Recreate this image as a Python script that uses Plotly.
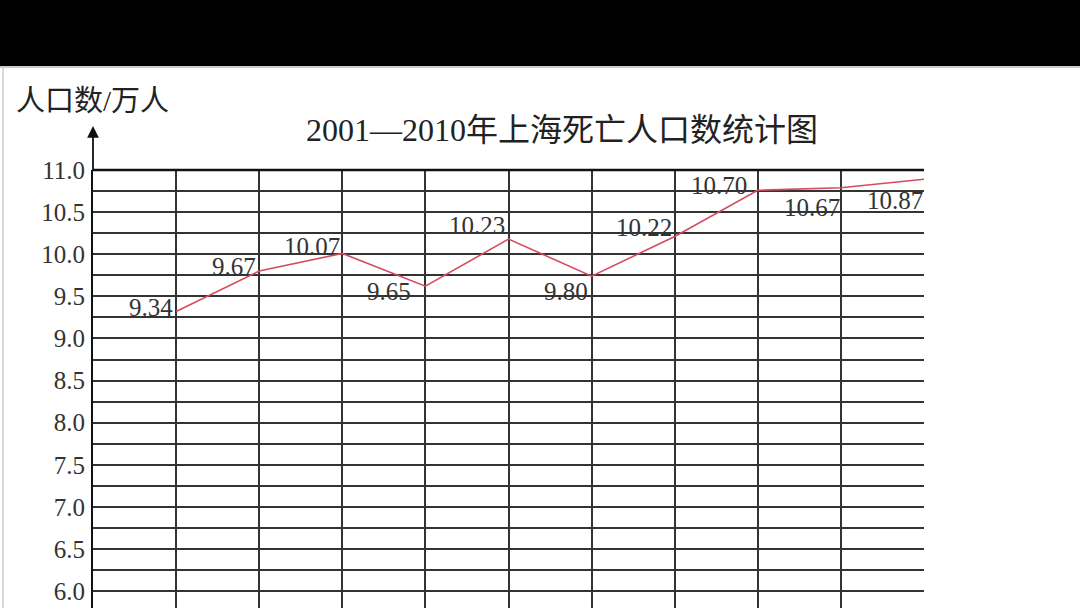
import plotly.graph_objects as go

years = [2001, 2002, 2003, 2004, 2005, 2006, 2007, 2008, 2009, 2010]
# positions as drawn in the picture
values = [9.32, 9.80, 10.01, 9.62, 10.18, 9.74, 10.21, 10.76, 10.79, 10.89]
# numbers printed next to the points
label_texts = ["9.34", "9.67", "10.07", "9.65", "10.23", "9.80", "10.22", "10.70", "10.67", "10.87"]
y_tick_text = ["6.0", "6.5", "7.0", "7.5", "8.0", "8.5", "9.0", "9.5", "10.0", "10.5", "11.0"]

# label placement offsets (pixels) relative to each point
label_dx = [-1, -1, 0, -12, -2, -2, -1, -9, 1, 1]
label_dy = [4.5, 5, 6.5, -5, 14, -15.5, 9.5, 4.5, -19.5, -21.5]

SERIF = "Liberation Serif, Noto Sans CJK SC"
GRID = "#333333"

fig = go.Figure()
fig.add_trace(go.Scatter(
    x=years, y=values, mode="lines",
    line=dict(color="#d64b60", width=1.6),
    hoverinfo="skip", showlegend=False,
))

W, H = 1080, 608
L, R, T, B = 93, 1080 - 924, 170, 0
pw, ph = W - L - R, H - T - B

def px_x(p):
    return (p - L) / pw

def px_y(p):
    return (H - B - p) / ph

annotations = []
for yr, v, t, dx, dy in zip(years, values, label_texts, label_dx, label_dy):
    annotations.append(dict(x=yr, y=v, xref="x", yref="y", text=t, showarrow=False,
                            xanchor="right", yanchor="middle", xshift=dx, yshift=dy,
                            font=dict(family=SERIF, size=25, color="#333")))

# title
annotations.append(dict(x=px_x(562), y=px_y(130), xref="paper", yref="paper",
                        text="2001—2010年上海死亡人口数统计图", showarrow=False,
                        xanchor="center", yanchor="middle",
                        font=dict(family=SERIF, size=32, color="#222")))
# y-axis label
annotations.append(dict(x=px_x(92), y=px_y(101), xref="paper", yref="paper",
                        text="人口数/万人", showarrow=False,
                        xanchor="center", yanchor="middle",
                        font=dict(family=SERIF, size=29, color="#222")))
# arrow on the y axis
annotations.append(dict(x=0, y=px_y(126), xref="paper", yref="paper",
                        ax=0, ay=46, axref="pixel", ayref="pixel", text="",
                        showarrow=True, arrowhead=2, arrowsize=1.3, arrowwidth=1.8,
                        arrowcolor="#111"))

shapes = [
    # black band at the top
    dict(type="rect", xref="paper", yref="paper", x0=px_x(-5), x1=px_x(1085),
         y0=px_y(66), y1=px_y(-5), fillcolor="black", line=dict(width=0), layer="above"),
    dict(type="line", xref="paper", yref="paper", x0=px_x(0), x1=px_x(1080),
         y0=px_y(67), y1=px_y(67), line=dict(color="#bbbbbb", width=1.5)),
    dict(type="line", xref="paper", yref="paper", x0=px_x(3), x1=px_x(3),
         y0=px_y(67), y1=px_y(610), line=dict(color="#cccccc", width=1.5)),
    # thicker top border
    dict(type="line", xref="paper", yref="paper", x0=0, x1=1, y0=1, y1=1,
         line=dict(color="#111", width=2.5), layer="above"),
]

fig.update_layout(
    width=W, height=H,
    margin=dict(l=L, r=R, t=T, b=B, pad=0),
    paper_bgcolor="white", plot_bgcolor="white",
    showlegend=False,
    annotations=annotations,
    shapes=shapes,
    xaxis=dict(range=[2000, 2010], tickmode="array", tickvals=list(range(2000, 2011)),
               showticklabels=False, showgrid=True, gridcolor=GRID, gridwidth=2,
               zeroline=False, showline=False, ticks="", fixedrange=True),
    yaxis=dict(range=[5.8, 11.0], tickmode="array",
               tickvals=[6.0 + 0.25 * i for i in range(21)],
               ticktext=[(y_tick_text[i // 2] if i % 2 == 0 else "") for i in range(21)],
               showgrid=True, gridcolor=GRID, gridwidth=2, zeroline=False,
               showline=True, linecolor="#111", linewidth=2, ticks="",
               ticklabelstandoff=1,
               tickfont=dict(family=SERIF, size=25, color="#333"), fixedrange=True),
)

fig.write_html("out.html",
               config={"displayModeBar": False, "staticPlot": True},
               post_script="document.body.style.margin='0px';document.body.style.overflow='hidden';")
